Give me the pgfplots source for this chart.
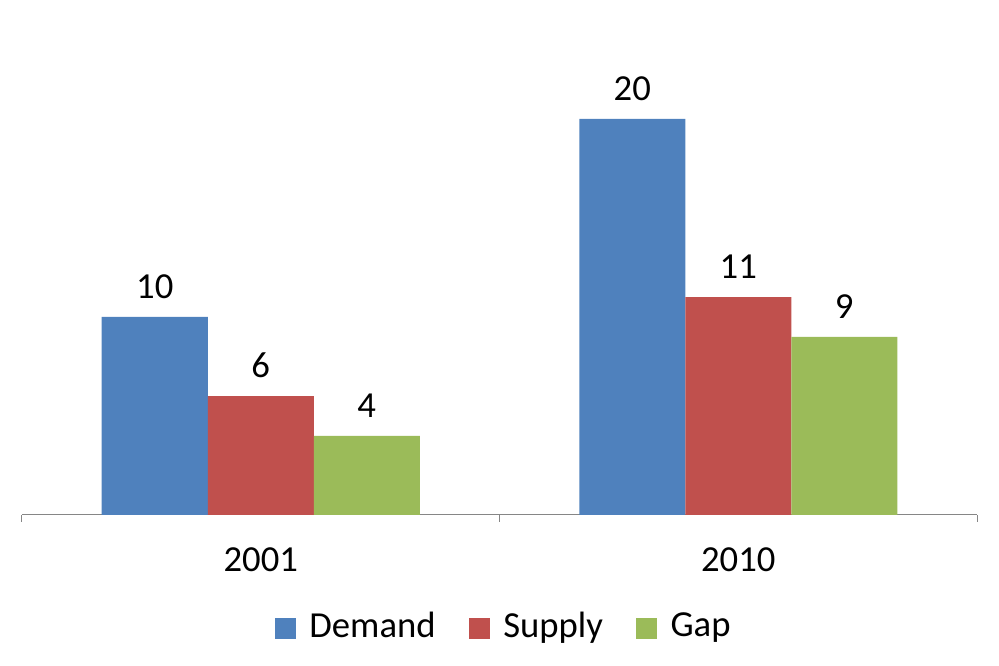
\documentclass[border=0pt]{standalone}
\usepackage{pgfplots}
\pgfplotsset{compat=1.18}
\usepackage{fontspec}
\setmainfont{Carlito}
\definecolor{cblue}{RGB}{79,129,189}
\definecolor{cred}{RGB}{192,80,77}
\definecolor{cgreen}{RGB}{155,187,89}
\definecolor{axisgray}{RGB}{134,134,134}

\begin{document}
\begin{tikzpicture}
\begin{axis}[
    scale only axis,
    width=716.25pt, height=371.25pt,
    ybar=0pt,
    bar width=79.5pt,
    ymin=0, ymax=25,
    xmin=-0.5, xmax=1.5,
    axis x line*=bottom,
    axis y line=none,
    x axis line style={axisgray, line width=0.75pt, -},
    xtick={-0.5,0.5,1.5},
    x tick label as interval,
    xticklabels={2001,2010},
    major tick length=5.25pt,
    tick align=outside,
    x tick style={axisgray, line width=0.75pt},
    xticklabel style={font=\fontsize{27.5}{32}\selectfont, inner sep=0pt, anchor=north, yshift=-19pt},
    /pgf/number format/assume math mode=true,
    nodes near coords,
    every node near coord/.append style={font=\fontsize{27.5}{32}\selectfont, inner sep=0pt, anchor=south, yshift=13.5pt},
    legend columns=-1,
    legend style={at={(0.5,0)}, anchor=center, yshift=-83pt, xshift=3.5pt, draw=none,
        font=\fontsize{27.5}{32}\selectfont,
        /tikz/every even column/.append style={column sep=23pt},
        /tikz/every odd column/.append style={column sep=8pt}},
    legend image code/.code={\fill[#1,draw=none] (0pt,-9.75pt) rectangle (15.75pt,6pt);},
]
\addplot[fill=cblue, draw=none] coordinates {(0,10) (1,20)};
\addplot[fill=cred, draw=none] coordinates {(0,6) (1,11)};
\addplot[fill=cgreen, draw=none] coordinates {(0,4) (1,9)};
\legend{Demand,Supply,Gap}
\end{axis}
\path[use as bounding box] (-16.5pt,-113.25pt) rectangle (732.75pt,386.25pt);
\end{tikzpicture}
\end{document}
